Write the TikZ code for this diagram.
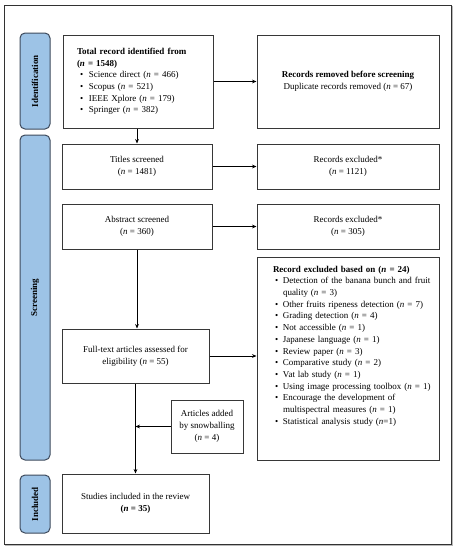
\documentclass[tikz,border=0pt]{standalone}
\usepackage{fontspec}
\setmainfont{Liberation Serif}
\usetikzlibrary{arrows.meta}
\definecolor{phasefill}{RGB}{157,195,230}
\definecolor{phaseborder}{RGB}{62,74,92}
\definecolor{boxgray}{RGB}{55,55,55}
\definecolor{framegray}{RGB}{50,50,50}
\newcommand{\myitem}[3]{\par\hangindent=#2\hangafter=1\noindent\hspace*{#1}\makebox[\dimexpr#2-#1\relax][l]{\textbullet}#3}
\newcommand{\nn}{\textit{n}}
\begin{document}
\begin{tikzpicture}[x=1pt,y=-1pt,
  every node/.style={font=\fontsize{9}{11.7}\selectfont},
  box/.style={draw=boxgray, line width=1pt, fill=white, inner sep=0pt, align=center},
  phase/.style={draw=phaseborder, fill=phasefill, rounded corners=5pt, line width=1pt,
    font=\fontsize{9}{11.7}\selectfont\bfseries, rotate=90, inner sep=0pt},
  arr/.style={-{Stealth[length=4.5pt,width=3.8pt]}, line width=0.9pt}]
\useasboundingbox[fill=white] (0,0) rectangle (455,550);
% outer frame with shadow
\draw[gray!55, line width=1.2pt] (5.6,6.6) rectangle (452.6,545.6);
\draw[draw=framegray, line width=1pt, fill=white] (4,5) rectangle (451,544);
% phase labels
\node[phase, minimum width=96pt, minimum height=30pt] (pid) at (35,81) {Identification};
\node[phase, minimum width=325pt, minimum height=30pt] (pscr) at (35,297.5) {Screening};
\node[phase, minimum width=58pt, minimum height=30pt] (pinc) at (35,504) {Included};
% boxes
\node[box, minimum width=150pt, minimum height=93pt, text width=122pt, align=left] (total) at (138,81.5)
  {\textbf{Total record identified from}\par\textbf{(\nn{} = 1548)}%
   \myitem{3pt}{12pt}{Science direct (\nn{} = 466)}%
   \myitem{3pt}{12pt}{Scopus (\nn{} = 521)}%
   \myitem{3pt}{12pt}{IEEE Xplore (\nn{} = 179)}%
   \myitem{3pt}{12pt}{Springer (\nn{} = 382)}};
\node[box, minimum width=182pt, minimum height=93pt] (removed) at (348,81.5)
  {\textbf{Records removed before screening}\\Duplicate records removed (\nn{} = 67)};
\node[box, minimum width=150pt, minimum height=45pt] (titles) at (137,166.5)
  {Titles screened\\(\nn{} = 1481)};
\node[box, minimum width=182pt, minimum height=45pt] (excl1) at (348,166.5)
  {Records excluded*\\(\nn{} = 1121)};
\node[box, minimum width=150pt, minimum height=45pt] (abstract) at (137,226.5)
  {Abstract screened\\(\nn{} = 360)};
\node[box, minimum width=182pt, minimum height=45pt] (excl2) at (348,226.5)
  {Records excluded*\\(\nn{} = 305)};
\node[box, minimum width=147pt, minimum height=54pt] (full) at (135.5,356)
  {Full-text articles assessed for\\eligibility (\nn{} = 55)};
\node[box, minimum width=182pt, minimum height=203pt, text width=180pt, inner xsep=1pt, align=left] (based) at (348,358.5)
  {\leftskip=15pt\textbf{Record excluded based on (\nn{} = 24)}%
   \myitem{2pt}{10pt}{Detection of the banana bunch and fruit\newline quality (\nn{} = 3)}%
   \myitem{2pt}{10pt}{Other fruits ripeness detection (\nn{} = 7)}%
   \myitem{2pt}{10pt}{Grading detection (\nn{} = 4)}%
   \myitem{2pt}{10pt}{Not accessible (\nn{} = 1)}%
   \myitem{2pt}{10pt}{Japanese language (\nn{} = 1)}%
   \myitem{2pt}{10pt}{Review paper (\nn{} = 3)}%
   \myitem{2pt}{10pt}{Comparative study (\nn{} = 2)}%
   \myitem{2pt}{10pt}{Vat lab study (\nn{} = 1)}%
   \myitem{2pt}{10pt}{Using image processing toolbox (\nn{} = 1)}%
   \myitem{2pt}{10pt}{Encourage the development of\newline multispectral measures (\nn{} = 1)}%
   \myitem{2pt}{10pt}{Statistical analysis study (\nn{}=1)}\par\noindent\rule{0pt}{24pt}};
\node[box, minimum width=72pt, minimum height=53pt] (snow) at (207,426.5)
  {Articles added\\by snowballing\\(\nn{} = 4)};
\node[box, minimum width=147pt, minimum height=59pt] (studies) at (135.5,503.5)
  {Studies included in the review\\\textbf{(\nn{} = 35)}};
% connectors
\draw[arr] (total.east) -- (removed.west);
\draw[arr] (titles.north |- total.south) -- (titles.north);
\draw[arr] (titles.east) -- (excl1.west);
\draw[arr] (abstract.east) -- (excl2.west);
\draw[arr] (abstract.south) -- (abstract.south |- full.north);
\draw[arr] (full.east) -- (full.east -| based.west);
\draw[arr] (full.south) -- (studies.north);
\draw[arr] (snow.west) -- (snow.west -| full.south);
\end{tikzpicture}
\end{document}
